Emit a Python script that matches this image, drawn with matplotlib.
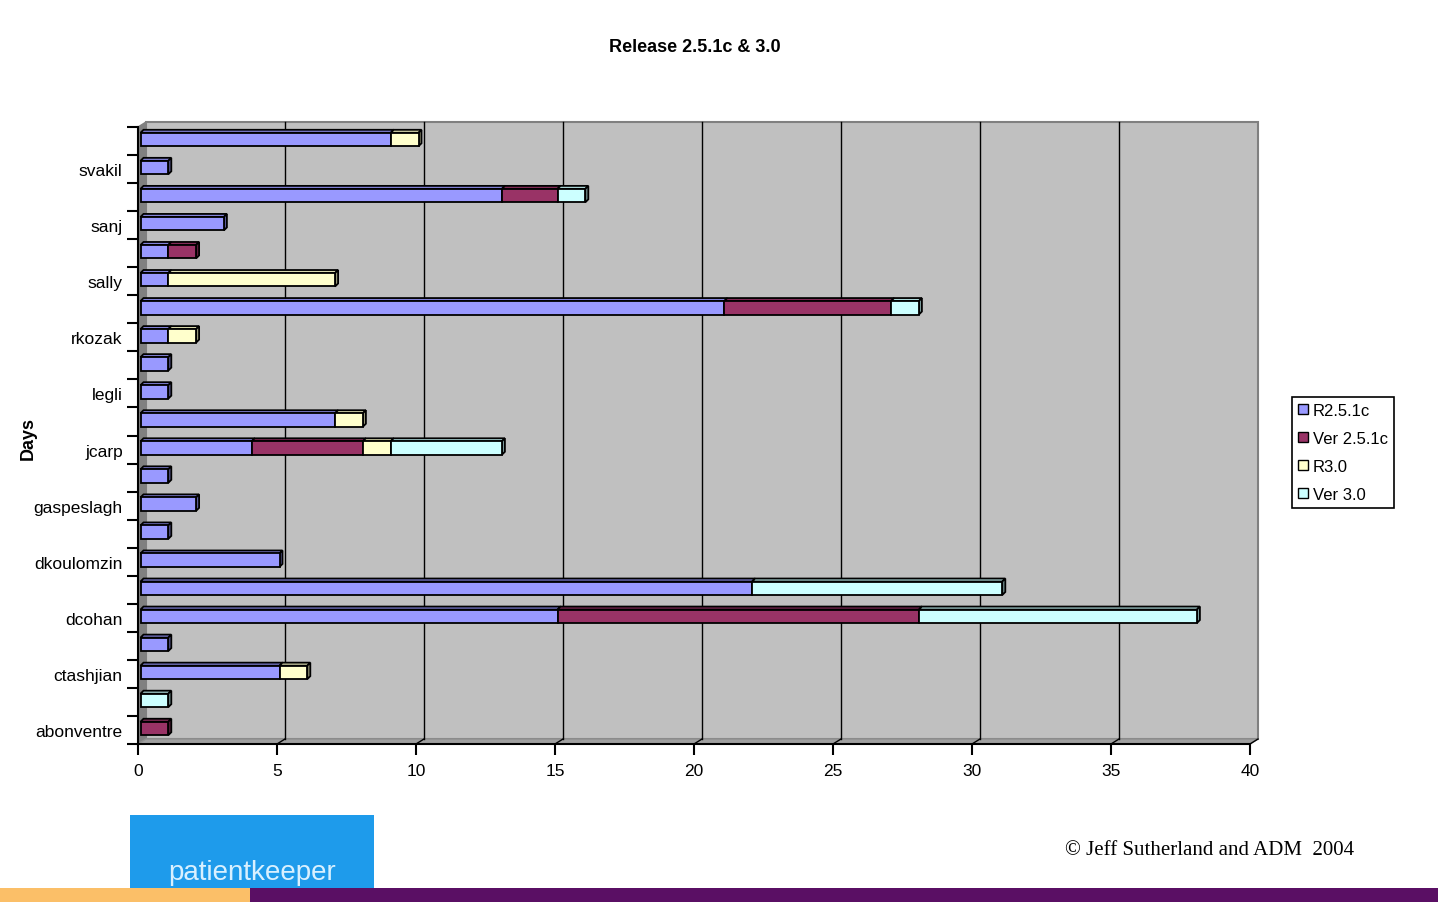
#release chart: stacked horizontal bars per developer, drawn with a fake 3D wall like the Excel original
import matplotlib
matplotlib.use('Agg')
import matplotlib.pyplot as plt
from matplotlib.patches import Rectangle, Polygon, Patch
from matplotlib.transforms import ScaledTranslation
import numpy as np

plt.rcParams['font.family'] = ['Liberation Sans', 'DejaVu Sans']

#rows from bottom to top, only every other row is labelled on the original
names = ['abonventre', '', 'ctashjian', '', 'dcohan', '', 'dkoulomzin', '', 'gaspeslagh', '',
         'jcarp', '', 'legli', '', 'rkozak', '', 'sally', '', 'sanj', '', 'svakil', '']
series = ['R2.5.1c', 'Ver 2.5.1c', 'R3.0', 'Ver 3.0']
r251 = [0, 0, 5, 1, 15, 22, 5, 1, 2, 1, 4, 7, 1, 1, 1, 21, 1, 1, 3, 13, 1, 9]
ver251 = [1, 0, 0, 0, 13, 0, 0, 0, 0, 0, 4, 0, 0, 0, 0, 6, 0, 1, 0, 2, 0, 0]
r30 = [0, 0, 1, 0, 0, 0, 0, 0, 0, 0, 1, 1, 0, 0, 1, 0, 6, 0, 0, 0, 0, 1]
ver30 = [0, 1, 0, 0, 10, 9, 0, 0, 0, 0, 4, 0, 0, 0, 0, 1, 0, 0, 0, 1, 0, 0]
colors = ['#9999FF', '#993366', '#FFFFCC', '#CCFFFF']
xticks = [0, 5, 10, 15, 20, 25, 30, 35, 40]

def shade(c, f):
    rgb = np.array(matplotlib.colors.to_rgb(c))
    return tuple(rgb * f)

W, H = 1438, 903
fig = plt.figure(figsize=(W/100, H/100), dpi=100)
ax = fig.add_axes([138/W, 1-745/H, 1112/W, 617/H])
ax.set_facecolor('none')
n = len(names)
xmax = 40
ax.set_xlim(0, xmax)
ax.set_ylim(-0.5, n-0.5)

#wall depth in pixels -> data units
px_x = 1112/xmax
px_y = 617/n
wx, wy = 8/px_x, 5/px_y
bx, by = 3/px_x, 3/px_y
off = ax.transData + ScaledTranslation(0.08, 0.05, fig.dpi_scale_trans)
boff = ax.transData + ScaledTranslation(0.025, 0.015, fig.dpi_scale_trans)

#back wall, side wall, floor
ax.add_patch(Rectangle((0, -0.5), xmax, n, facecolor='#C0C0C0', edgecolor='#808080',
                       lw=1.5, transform=off, clip_on=False, zorder=0))
ax.add_patch(Polygon([(0, -0.5), (0, n-0.5), (wx, n-0.5+wy), (wx, -0.5+wy)],
                     facecolor='#808080', edgecolor='#808080', clip_on=False, zorder=0.5))
ax.add_patch(Polygon([(0, -0.5), (xmax, -0.5), (xmax+wx, -0.5+wy), (wx, -0.5+wy)],
                     facecolor='#A0A0A0', edgecolor='#909090', clip_on=False, zorder=0.5))
for x in xticks[1:-1]:
    ax.plot([x, x], [-0.5, n-0.5], color='black', lw=1, transform=off, clip_on=False, zorder=0.6)
for x in xticks[1:]:
    ax.plot([x, x+wx], [-0.5, -0.5+wy], color='black', lw=1, clip_on=False, zorder=0.6)

#stacked bars with top and side faces
h = 0.48
data = [r251, ver251, r30, ver30]
for i in range(n):
    y = i
    left = 0
    last = None
    for k in range(4):
        w = data[k][i]
        if w <= 0:
            continue
        ax.add_patch(Rectangle((left, y-h/2), w, h, facecolor=colors[k], edgecolor='black', lw=1.3,
                               transform=boff, clip_on=False, zorder=3))
        ax.add_patch(Polygon([(left, y+h/2), (left+w, y+h/2), (left+w+bx, y+h/2+by), (left+bx, y+h/2+by)],
                             facecolor=shade(colors[k], 0.85), edgecolor='black', lw=1.3,
                             transform=boff, clip_on=False, zorder=2.5))
        left += w
        last = k
    if last is not None:
        ax.add_patch(Polygon([(left, y-h/2), (left, y+h/2), (left+bx, y+h/2+by), (left+bx, y-h/2+by)],
                             facecolor=shade(colors[last], 0.6), edgecolor='black', lw=1.3,
                             transform=boff, clip_on=False, zorder=2.5))

#axes
for s in ['top', 'right']:
    ax.spines[s].set_visible(False)
ax.spines['left'].set_linewidth(1.5)
ax.spines['bottom'].set_linewidth(1.5)
ax.spines['left'].set_zorder(4)
ax.set_xticks(xticks)
ax.set_xticklabels([str(x) for x in xticks], fontsize=12.5)
ax.tick_params(axis='x', direction='out', length=8, width=1.5, pad=6)
ax.set_yticks(np.arange(-0.5, n, 1))
ax.set_yticklabels([])
ax.tick_params(axis='y', which='major', direction='out', length=8, width=1.5)
ax.set_yticks(np.arange(n), minor=True)
ax.set_yticklabels(names, minor=True, fontsize=12.5)
ax.tick_params(axis='y', which='minor', length=0, pad=11)

fig.text(695/W, 1-48/H, 'Release 2.5.1c & 3.0', ha='center', va='center', fontsize=13, fontweight='bold')
fig.text(28/W, 1-438/H, 'Days', ha='center', va='center', rotation=90, fontsize=13, fontweight='bold')

handles = [Patch(facecolor=c, edgecolor='black', label=s) for c, s in zip(colors, series)]
leg = fig.legend(handles=handles, loc='upper left', bbox_to_anchor=(1292/W, 1-398/H), fontsize=12,
                 handlelength=0.6, handleheight=0.6, handletextpad=0.3, labelspacing=0.78,
                 borderpad=0.35, borderaxespad=0, fancybox=False, framealpha=1)
leg.get_frame().set_edgecolor('black')
leg.get_frame().set_linewidth(1.2)

#footer: logo block, copyright and colour bands
fig.patches.append(Rectangle((130/W, 1-889/H), 244/W, 73/H, transform=fig.transFigure, facecolor='#1E9BEB', zorder=1))
fig.text(252/W, 1-873/H, 'patientkeeper', ha='center', va='center', fontsize=20, color='#D8F0FF', zorder=2)
fig.patches.append(Rectangle((0, 0), 250/W, 14/H, transform=fig.transFigure, facecolor='#FBBF68', zorder=3))
fig.patches.append(Rectangle((250/W, 0), 1-250/W, 14/H, transform=fig.transFigure, facecolor='#5A0F64', zorder=3))
fig.text(1065/W, 1-851/H, '\u00a9 Jeff Sutherland and ADM  2004', ha='left', va='center', fontsize=15,
         family=['Liberation Serif', 'DejaVu Serif'])

fig.savefig('out.png', dpi=100)
